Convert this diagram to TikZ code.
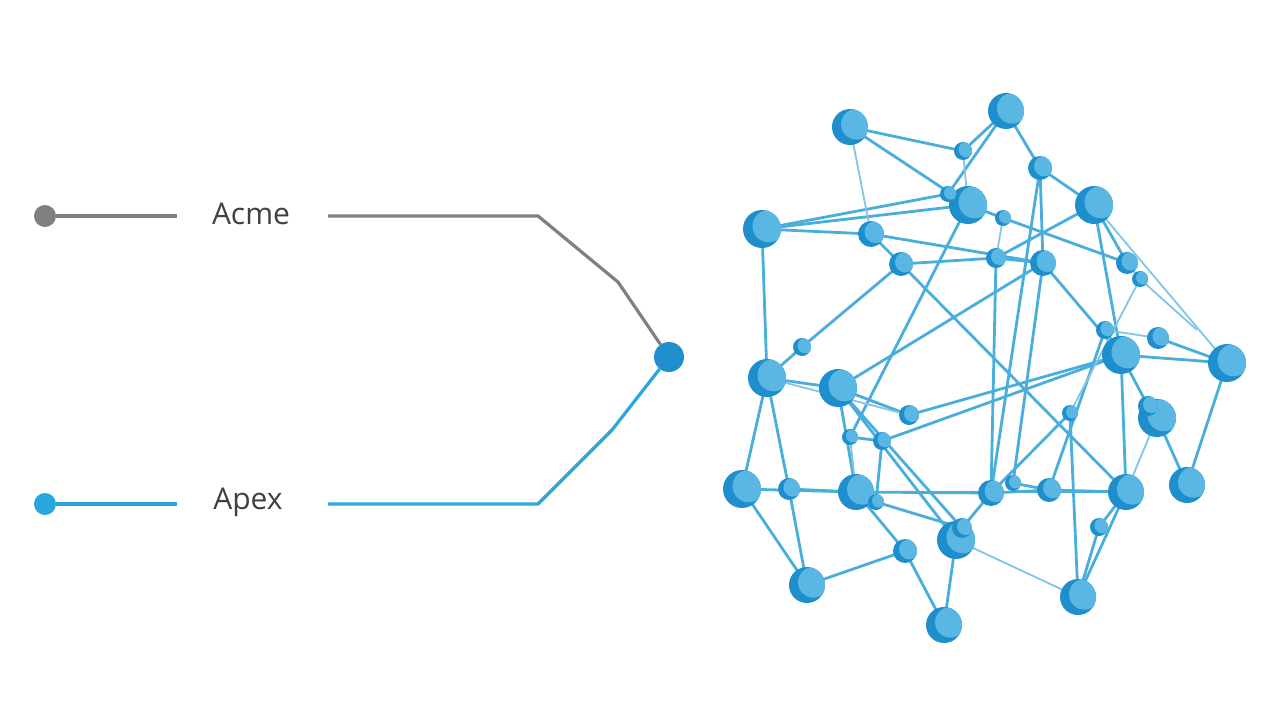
\documentclass[tikz,border=0pt]{standalone}
\usepackage{fontspec}
\setmainfont{Open Sans}
\usetikzlibrary{calc}
\begin{document}
\begin{tikzpicture}[x=1pt,y=-1pt,
  lead/.style={line width=3.2pt},
  edge/.style={line width=2.8pt,draw=netline},
  thin/.style={line width=1.8pt,draw=netline!70}]
\definecolor{netline}{HTML}{4AAEDD}
\definecolor{nodeblue}{HTML}{1E8FCC}
\definecolor{nodelight}{HTML}{5AB6E2}
\definecolor{leadgray}{HTML}{808080}
\definecolor{leadblue}{HTML}{29A6DC}
\useasboundingbox (0,0) rectangle (1280,720);
% left part
\node[circle,fill=leadgray,inner sep=0,minimum size=22] (g0) at (45,216) {};
\node[circle,fill=leadblue,inner sep=0,minimum size=22] (b0) at (45,504) {};
\node[circle,fill=nodeblue,inner sep=0,minimum size=30] (hub) at (669,357) {};
\node[font=\fontsize{30}{34}\selectfont,text=black!75] (acme) at (251,214) {Acme};
\node[font=\fontsize{30}{34}\selectfont,text=black!75] (apex) at (248,502) {Apex};
\coordinate (g1) at (177,216); \coordinate (g2) at (328,216);
\coordinate (b1) at (177,504); \coordinate (b2) at (328,504);
\draw[lead,leadgray] (g0) -- (g1);
\draw[lead,leadgray] (g2) -- (538,216) -- (618,282) -- (hub);
\draw[lead,leadblue] (b0) -- (b1);
\draw[lead,leadblue] (b2) -- (538,504) -- (612,430) -- (hub);
% network coordinates
\foreach \n/\x/\y in {a/850/127,b/1006/111,c/762/229,d/968/205,e/1094/205,f/767/378,g/838/388,h/1121/355,i/1227/363,j/1157/418,k/742/489,l/856/492,m/1126/492,n/1187/485,o/956/540,p/807/585,q/1078/597,r/944/625,s/871/234,t/1040/168,u/901/264,v/1043/263,w/1127/263,x/991/493,y/1049/490,z/905/551,aa/909/415,ab/962/528,ac/1148/406,ad/963/151,ae/948/194,af/1003/218,ag/996/258,ah/1140/279,ai/1105/330,aj/1158/338,ak/802/347,al/850/437,am/882/441,an/789/489,ao/876/502,ap/1070/413,aq/1099/527,ar/1013/483}
  \coordinate (\n) at (\x,\y);
\coordinate (tail) at (1197,330);
\foreach \p/\q in {a/ad,ad/b,a/d,b/t,t/e,c/s,c/d,c/ae,ae/b,s/v,s/u,d/af,af/w,e/ag,e/w,u/ak,ak/f,u/ag,ag/v,v/h,v/t,t/x,v/g,u/m,f/g,f/c,f/an,k/f,g/aa,aa/h,g/o,g/ab,h/i,h/ai,aj/i,i/n,n/j,j/ac,ac/h,h/m,m/q,o/r,r/z,z/p,p/an,l/k,l/m,l/x,x/y,y/m,x/ab,ab/o,ar/y,ap/q,ap/x,al/am,am/h,am/ao,ao/ab,aq/m,aq/q,v/ar,g/l,l/z,e/h,d/al,k/p,an/l,y/ai,x/ag}
  \draw[edge] (\p) -- (\q);
\foreach \p/\q in {a/s,ad/d,ah/tail,w/ah,ap/ah,ai/aj,f/aa,al/l,o/q,ag/af,m/j,e/i}
  \draw[thin] (\p) -- (\q);
% nodes
\foreach \n/\r in {a/18,b/18,c/19,d/19,e/19,f/19,g/19,h/19,i/19,j/19,k/19,l/18,m/18,n/18,o/19,p/18,q/18,r/18,s/13,t/12,u/12,v/13,w/11,x/13,y/12,z/12,aa/10,ab/10,ac/10,ad/9,ae/8,af/8,ag/10,ah/8,ai/9,aj/11,ak/9,al/8,am/9,an/11,ao/8,ap/8,aq/9,ar/8}{
  \begin{scope}
    \fill[nodeblue] (\n) circle (\r);
    \clip (\n) circle (\r);
    \fill[nodelight] ($(\n)+(0.35*\r,-0.15*\r)$) circle (0.85*\r);
  \end{scope}
}
\end{tikzpicture}
\end{document}
